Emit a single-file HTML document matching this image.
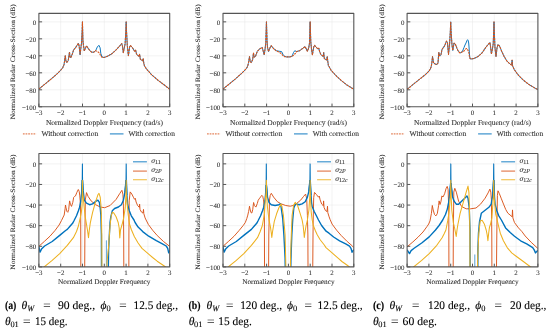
<!DOCTYPE html>
<html><head><meta charset="utf-8"><title>Figure</title>
<style>html,body{margin:0;padding:0;background:#fff;}svg{display:block;text-rendering:geometricPrecision;}svg>text{stroke:#333;stroke-width:0.07px;}</style>
</head><body>
<svg width="550" height="330" viewBox="0 0 550 330" font-family="&quot;Liberation Serif&quot;, &quot;DejaVu Serif&quot;, serif" fill="#2b2b2b">
<rect width="550" height="330" fill="#fff"/>
<defs>
<clipPath id="c00"><rect x="38.90" y="13.36" width="130.80" height="93.44"/></clipPath>
<clipPath id="c01"><rect x="38.90" y="153.55" width="130.80" height="113.35"/></clipPath>
<clipPath id="c10"><rect x="223.00" y="13.36" width="130.80" height="93.44"/></clipPath>
<clipPath id="c11"><rect x="223.00" y="153.55" width="130.80" height="113.35"/></clipPath>
<clipPath id="c20"><rect x="407.10" y="13.36" width="130.80" height="93.44"/></clipPath>
<clipPath id="c21"><rect x="407.10" y="153.55" width="130.80" height="113.35"/></clipPath>
</defs>
<path d="M60.70 13.36V106.80M82.50 13.36V106.80M104.30 13.36V106.80M126.10 13.36V106.80M147.90 13.36V106.80M38.90 89.81H169.70M38.90 72.82H169.70M38.90 55.83H169.70M38.90 38.84H169.70M38.90 21.85H169.70" stroke="#e6e6e6" stroke-width="0.5" fill="none"/>
<path d="M60.70 153.55V266.90M82.50 153.55V266.90M104.30 153.55V266.90M126.10 153.55V266.90M147.90 153.55V266.90M38.90 246.29H169.70M38.90 225.68H169.70M38.90 205.07H169.70M38.90 184.46H169.70M38.90 163.85H169.70" stroke="#e6e6e6" stroke-width="0.5" fill="none"/>
<path d="M244.80 13.36V106.80M266.60 13.36V106.80M288.40 13.36V106.80M310.20 13.36V106.80M332.00 13.36V106.80M223.00 89.81H353.80M223.00 72.82H353.80M223.00 55.83H353.80M223.00 38.84H353.80M223.00 21.85H353.80" stroke="#e6e6e6" stroke-width="0.5" fill="none"/>
<path d="M244.80 153.55V266.90M266.60 153.55V266.90M288.40 153.55V266.90M310.20 153.55V266.90M332.00 153.55V266.90M223.00 246.29H353.80M223.00 225.68H353.80M223.00 205.07H353.80M223.00 184.46H353.80M223.00 163.85H353.80" stroke="#e6e6e6" stroke-width="0.5" fill="none"/>
<path d="M428.90 13.36V106.80M450.70 13.36V106.80M472.50 13.36V106.80M494.30 13.36V106.80M516.10 13.36V106.80M407.10 89.81H537.90M407.10 72.82H537.90M407.10 55.83H537.90M407.10 38.84H537.90M407.10 21.85H537.90" stroke="#e6e6e6" stroke-width="0.5" fill="none"/>
<path d="M428.90 153.55V266.90M450.70 153.55V266.90M472.50 153.55V266.90M494.30 153.55V266.90M516.10 153.55V266.90M407.10 246.29H537.90M407.10 225.68H537.90M407.10 205.07H537.90M407.10 184.46H537.90M407.10 163.85H537.90" stroke="#e6e6e6" stroke-width="0.5" fill="none"/>
<g clip-path="url(#c00)">
<polyline points="38.90,89.00 44.70,84.30 51.30,78.80 56.20,74.70 58.00,73.00 61.00,69.80 62.70,67.80 64.10,64.40 65.30,55.70 65.90,60.70 66.80,62.50 68.20,60.70 69.50,52.10 70.00,57.10 70.90,57.50 72.70,53.00 73.60,49.80 74.50,48.90 75.90,47.10 78.40,43.30 79.20,46.30 80.10,54.90 80.90,47.80 81.60,42.30 82.20,30.00 82.45,21.80 82.70,32.00 82.95,40.70 83.50,45.50 84.30,51.00 85.50,47.80 86.60,45.90 87.80,47.80 89.80,50.60 91.80,52.20 93.70,52.20 95.70,50.60 97.30,47.00 98.90,45.30 100.10,47.80 100.80,53.40 102.00,56.90 104.00,57.50 107.90,56.10 111.90,53.70 115.80,50.20 119.80,45.90 121.70,43.50 122.50,46.30 123.30,52.60 124.30,47.80 125.10,43.90 125.80,32.00 126.20,21.80 126.55,32.00 127.30,45.50 128.40,55.70 129.60,47.00 130.40,45.50 132.30,47.50 134.60,51.20 135.60,50.00 136.50,54.00 138.90,56.50 139.60,54.20 140.30,59.20 142.50,60.80 143.20,58.80 143.80,63.30 144.50,66.00 146.70,69.20 151.70,74.80 158.30,80.50 165.00,85.50 169.70,89.30" fill="none" stroke="#0072BD" stroke-width="0.95" stroke-linejoin="round" stroke-linecap="butt"/>
<polyline points="38.90,89.00 44.70,84.30 51.30,78.80 56.20,74.70 58.00,73.00 61.00,69.80 62.70,67.80 64.10,64.40 65.30,55.70 65.90,60.70 66.80,62.50 68.20,60.70 69.50,52.10 70.00,57.10 70.90,57.50 72.70,53.00 73.60,49.80 74.50,48.90 75.90,47.10 78.40,43.30 79.20,46.30 80.10,54.90 80.90,47.80 81.60,42.30 82.20,30.00 82.45,21.80 82.70,32.00 82.95,40.70 83.50,45.50 84.30,51.00 85.50,47.80 86.60,45.90 87.80,47.80 89.80,50.60 91.80,52.20 93.70,52.20 95.70,50.60 96.90,51.40 98.50,52.20 99.70,53.70 100.80,55.70 102.00,57.30 104.00,57.50 107.90,56.10 111.90,53.70 115.80,50.20 119.80,45.90 121.70,43.50 122.50,46.30 123.30,52.60 124.30,47.80 125.10,43.90 125.80,32.00 126.20,21.80 126.55,32.00 127.30,45.50 128.40,55.70 129.60,47.00 130.40,45.50 132.30,47.50 134.60,51.20 135.60,50.00 136.50,54.00 138.90,56.50 139.60,54.20 140.30,59.20 142.50,60.80 143.20,58.80 143.80,63.30 144.50,66.00 146.70,69.20 151.70,74.80 158.30,80.50 165.00,85.50 169.70,89.30" fill="none" stroke="#D95319" stroke-width="1.1" stroke-linejoin="round" stroke-linecap="butt" stroke-dasharray="2.0 0.85"/>
</g>
<g clip-path="url(#c10)">
<polyline points="223.00,89.00 228.90,84.30 235.50,78.80 241.40,73.60 244.00,71.00 246.30,68.70 247.40,66.80 248.40,63.50 249.50,56.60 250.20,61.60 251.30,62.50 252.60,59.80 253.50,53.00 254.20,57.10 255.40,56.60 257.20,51.60 259.00,49.40 261.30,48.00 262.20,47.50 263.10,50.70 264.20,54.80 265.10,48.90 265.80,42.50 266.20,30.00 266.45,21.80 266.70,30.00 267.00,40.00 267.50,47.10 268.50,51.60 269.90,48.00 271.20,45.70 273.50,48.50 276.20,50.70 278.90,51.20 281.60,51.60 283.00,54.40 284.40,56.20 286.20,56.90 289.80,56.90 292.10,56.20 293.50,52.50 294.80,50.70 296.50,51.60 299.60,50.70 305.10,46.60 307.40,51.20 308.70,48.00 309.60,42.50 309.90,30.00 310.15,21.80 310.40,30.00 310.80,42.00 311.50,48.90 312.40,54.80 313.70,47.10 314.60,45.30 316.90,48.00 318.20,49.20 318.80,48.20 319.60,51.50 320.70,54.20 323.20,56.70 323.70,52.50 324.30,58.50 326.50,60.00 327.30,56.70 327.80,61.50 328.40,65.50 331.20,70.40 336.30,76.00 341.50,80.70 346.60,84.80 353.80,89.20" fill="none" stroke="#0072BD" stroke-width="0.95" stroke-linejoin="round" stroke-linecap="butt"/>
<polyline points="223.00,89.00 228.90,84.30 235.50,78.80 241.40,73.60 244.00,71.00 246.30,68.70 247.40,66.80 248.40,63.50 249.50,56.60 250.20,61.60 251.30,62.50 252.60,59.80 253.50,53.00 254.20,57.10 255.40,56.60 257.20,51.60 259.00,49.40 261.30,48.00 262.20,47.50 263.10,50.70 264.20,54.80 265.10,48.90 265.80,42.50 266.20,30.00 266.45,21.80 266.70,30.00 267.00,40.00 267.50,47.10 268.50,51.60 269.90,48.00 271.20,45.70 273.50,48.50 276.20,50.70 278.90,52.10 281.20,53.50 283.00,55.70 284.40,56.60 286.20,56.90 289.80,56.90 292.10,56.20 293.50,55.30 295.30,53.50 296.50,51.60 299.60,50.70 305.10,46.60 307.40,51.20 308.70,48.00 309.60,42.50 309.90,30.00 310.15,21.80 310.40,30.00 310.80,42.00 311.50,48.90 312.40,54.80 313.70,47.10 314.60,45.30 316.90,48.00 318.20,49.20 318.80,48.20 319.60,51.50 320.70,54.20 323.20,56.70 323.70,52.50 324.30,58.50 326.50,60.00 327.30,56.70 327.80,61.50 328.40,65.50 331.20,70.40 336.30,76.00 341.50,80.70 346.60,84.80 353.80,89.20" fill="none" stroke="#D95319" stroke-width="1.1" stroke-linejoin="round" stroke-linecap="butt" stroke-dasharray="2.0 0.85"/>
</g>
<g clip-path="url(#c20)">
<polyline points="407.10,89.20 410.00,87.00 415.70,82.30 420.50,78.50 425.40,74.60 429.30,70.70 430.30,69.00 431.20,66.80 431.90,62.50 432.50,56.50 433.50,62.50 435.00,64.00 437.00,64.50 438.00,63.00 438.80,52.50 439.80,56.00 441.00,54.50 442.00,49.50 443.00,48.00 444.50,46.00 446.50,41.00 447.50,43.00 448.50,54.50 449.50,45.00 450.30,32.00 450.70,21.80 451.10,32.00 452.00,45.00 452.80,50.50 454.00,43.00 455.50,44.50 457.00,48.50 458.50,51.50 460.00,53.00 462.00,52.00 463.00,50.00 464.00,47.50 465.00,45.00 466.00,43.00 467.00,40.50 467.60,39.70 468.20,40.50 468.70,43.00 469.10,48.00 469.50,55.00 470.00,58.50 471.00,59.00 474.00,58.50 478.00,56.50 482.00,53.00 486.00,47.00 489.90,42.50 490.60,47.00 491.40,54.00 492.40,49.00 493.20,44.00 493.70,32.00 494.00,21.80 494.30,32.00 495.00,48.00 496.00,56.50 497.00,48.00 498.00,44.50 499.50,46.00 502.00,52.00 504.10,56.40 506.80,60.90 510.00,64.10 511.70,65.00 512.10,60.00 512.50,65.50 514.10,69.30 518.20,75.00 523.40,80.20 528.60,84.30 533.70,87.40 537.90,89.60" fill="none" stroke="#0072BD" stroke-width="0.95" stroke-linejoin="round" stroke-linecap="butt"/>
<polyline points="407.10,89.20 410.00,87.00 415.70,82.30 420.50,78.50 425.40,74.60 429.30,70.70 430.30,69.00 431.20,66.80 431.90,62.50 432.50,56.50 433.50,62.50 435.00,64.00 437.00,64.50 438.00,63.00 438.80,52.50 439.80,56.00 441.00,54.50 442.00,49.50 443.00,48.00 444.50,46.00 446.50,41.00 447.50,43.00 448.50,54.50 449.50,45.00 450.30,32.00 450.70,21.80 451.10,32.00 452.00,45.00 452.80,50.50 454.00,43.00 455.50,44.50 457.00,48.50 458.50,51.50 460.00,53.00 462.00,52.00 463.00,52.00 464.00,51.00 465.00,49.50 466.50,48.50 467.50,49.50 468.30,51.00 469.00,53.00 469.50,57.00 470.00,58.50 471.00,59.00 474.00,58.50 478.00,56.50 482.00,53.00 486.00,47.00 489.90,42.50 490.60,47.00 491.40,54.00 492.40,49.00 493.20,44.00 493.70,32.00 494.00,21.80 494.30,32.00 495.00,48.00 496.00,56.50 497.00,48.00 498.00,44.50 499.50,46.00 502.00,52.00 504.10,56.40 506.80,60.90 510.00,64.10 511.70,65.00 512.10,60.00 512.50,65.50 514.10,69.30 518.20,75.00 523.40,80.20 528.60,84.30 533.70,87.40 537.90,89.60" fill="none" stroke="#D95319" stroke-width="1.1" stroke-linejoin="round" stroke-linecap="butt" stroke-dasharray="2.0 0.85"/>
</g>
<g clip-path="url(#c01)">
<polyline points="38.90,246.30 44.60,241.20 50.00,236.20 55.00,230.50 59.10,225.00 61.50,220.50 63.20,217.00 64.20,215.00 65.10,208.60 65.50,205.00 66.00,207.70 66.90,211.40 67.80,212.30 68.70,209.50 69.60,200.90 70.50,204.50 71.50,206.40 72.80,202.30 73.70,197.30 74.60,196.40 75.50,195.90 76.90,192.30 78.30,189.50 79.20,191.40 79.80,195.90 80.40,203.20 80.70,215.00 80.90,300.00" fill="none" stroke="#D95319" stroke-width="0.95" stroke-linejoin="round" stroke-linecap="butt"/>
<polyline points="84.50,300.00 84.90,235.00 85.30,200.00 86.50,192.60 88.10,196.40 91.10,200.90 95.60,204.70 100.20,207.00 104.70,207.70 110.10,205.50 116.10,199.40 119.90,193.30 121.90,190.30 122.90,194.10 123.40,203.20 123.70,235.00 123.90,300.00" fill="none" stroke="#D95319" stroke-width="0.95" stroke-linejoin="round" stroke-linecap="butt"/>
<polyline points="128.80,300.00 128.90,235.00 129.20,200.90 130.20,191.90 131.80,194.00 133.40,197.20 134.50,199.30 135.30,198.30 136.10,202.00 137.70,205.70 139.30,207.30 139.60,204.10 140.00,209.40 141.40,212.00 143.00,213.10 143.50,209.40 143.80,213.60 145.10,217.90 146.10,220.00 148.40,224.50 152.60,230.20 157.20,235.50 163.50,241.50 169.80,246.50" fill="none" stroke="#D95319" stroke-width="0.95" stroke-linejoin="round" stroke-linecap="butt"/>
<polyline points="38.90,246.80 40.00,252.10 41.50,249.10 44.60,246.00 52.20,241.50 59.70,235.40 65.60,230.50 67.30,229.40 70.20,226.00 72.60,223.30 74.10,220.50 76.50,215.70 78.40,210.80 79.60,207.20 80.80,201.00 81.60,193.00 82.25,180.00" fill="none" stroke="#0072BD" stroke-width="1.4" stroke-linejoin="round" stroke-linecap="butt"/>
<polyline points="82.55,180.00 83.10,190.00 84.30,200.20 86.50,203.20 89.60,204.70 92.60,203.90 96.40,200.90 97.90,200.20 99.40,202.40 100.20,207.70 100.90,215.30 101.40,235.00 101.60,300.00" fill="none" stroke="#0072BD" stroke-width="1.4" stroke-linejoin="round" stroke-linecap="butt"/>
<polyline points="81.60,193.00 82.25,180.00 82.40,163.90 82.55,180.00 83.10,190.00" fill="none" stroke="#0072BD" stroke-width="1.05" stroke-linejoin="round" stroke-linecap="butt"/>
<polyline points="106.10,300.00 106.40,240.40 106.70,300.00" fill="none" stroke="#0072BD" stroke-width="0.7" stroke-linejoin="round" stroke-linecap="butt" stroke-opacity="0.55"/>
<polyline points="107.80,300.00 108.60,250.00 109.60,230.00 110.10,222.00 110.80,216.80 112.30,210.80 114.60,208.50 118.40,207.00 121.40,204.70 123.40,200.20 124.90,192.60 126.05,180.00" fill="none" stroke="#0072BD" stroke-width="1.4" stroke-linejoin="round" stroke-linecap="butt"/>
<polyline points="126.35,180.00 126.90,195.00 127.60,204.50 129.20,210.50 131.30,215.80 134.00,220.00 135.10,222.50 138.10,227.10 142.70,231.60 148.70,236.20 156.30,240.70 162.40,243.80 166.20,246.00 167.70,248.30 168.70,252.80 169.80,250.50" fill="none" stroke="#0072BD" stroke-width="1.4" stroke-linejoin="round" stroke-linecap="butt"/>
<polyline points="124.90,192.60 126.05,180.00 126.20,163.90 126.35,180.00 126.90,195.00" fill="none" stroke="#0072BD" stroke-width="1.05" stroke-linejoin="round" stroke-linecap="butt"/>
<polyline points="43.80,267.20 52.20,260.40 59.70,253.60 67.30,245.30 73.40,237.70 76.50,231.50 78.40,226.00 80.20,218.10 81.40,212.10 82.00,206.00 82.20,195.00 82.40,180.30 82.65,192.00 83.50,200.20 85.00,215.30 86.50,224.40 87.60,231.00 88.50,237.70 89.20,231.00 90.30,222.90 92.60,212.30 95.60,201.70 97.90,194.80 99.00,193.30 100.20,197.10 100.90,204.70 101.40,215.30 101.80,235.00 102.00,300.00" fill="none" stroke="#EDB120" stroke-width="1.05" stroke-linejoin="round" stroke-linecap="butt"/>
<polyline points="106.50,300.00 107.00,262.00 108.40,249.00 109.60,232.00 110.10,225.00 111.30,215.30 112.30,212.30 113.80,213.00 116.10,216.80 118.20,222.50 119.20,228.00 119.80,238.00 120.50,230.00 122.20,224.00 123.70,218.00 125.20,207.70 125.95,195.00 126.20,180.30 126.45,195.00 127.30,205.00 128.20,215.00 129.50,224.00 131.30,229.50 134.30,236.50 138.10,243.00 142.00,248.40 148.10,253.70 152.60,257.50 157.20,261.20 163.90,265.80 167.00,268.00" fill="none" stroke="#EDB120" stroke-width="1.05" stroke-linejoin="round" stroke-linecap="butt"/>
</g>
<g clip-path="url(#c11)">
<polyline points="223.00,246.30 228.70,241.20 234.10,236.20 239.10,230.50 243.20,225.50 245.30,222.50 246.80,218.50 247.80,215.10 248.60,211.50 249.10,209.00 249.50,206.20 250.00,208.90 250.90,212.50 251.80,213.00 252.70,209.80 253.60,202.50 254.50,205.70 255.90,207.10 257.30,203.50 258.20,200.30 259.10,198.90 260.50,197.10 261.80,195.30 262.70,196.20 263.50,199.80 264.10,206.20 264.40,218.00 264.60,300.00" fill="none" stroke="#D95319" stroke-width="0.95" stroke-linejoin="round" stroke-linecap="butt"/>
<polyline points="268.40,300.00 268.80,235.00 269.50,200.00 270.20,195.50 271.30,193.30 273.60,197.10 277.40,201.70 281.20,203.90 285.70,205.50 290.20,206.20 293.30,205.50 296.10,203.90 300.60,200.20 303.60,196.40 305.60,194.10 306.70,198.60 307.40,215.30 307.90,235.00 308.10,300.00" fill="none" stroke="#D95319" stroke-width="0.95" stroke-linejoin="round" stroke-linecap="butt"/>
<polyline points="312.50,300.00 313.00,235.00 313.20,220.00 313.70,197.70 314.50,192.40 316.40,194.50 318.50,197.20 319.30,196.10 320.10,199.80 321.70,204.10 323.30,205.70 323.60,200.90 324.00,207.30 325.40,210.50 327.00,211.50 327.50,206.20 327.80,212.60 329.10,216.80 330.10,219.50 332.10,224.10 336.60,230.20 341.20,235.50 347.20,241.50 352.50,246.10 353.90,247.60" fill="none" stroke="#D95319" stroke-width="0.95" stroke-linejoin="round" stroke-linecap="butt"/>
<polyline points="223.00,246.80 224.10,252.10 225.60,249.10 228.70,246.00 236.30,241.50 243.80,235.40 251.40,229.40 254.30,226.00 256.70,223.30 258.20,220.50 260.60,215.70 262.50,210.80 263.70,207.20 264.90,201.00 265.60,194.00 266.15,185.00" fill="none" stroke="#0072BD" stroke-width="1.4" stroke-linejoin="round" stroke-linecap="butt"/>
<polyline points="266.45,185.00 267.50,197.10 269.00,202.40 271.30,204.70 275.10,205.50 278.90,204.70 280.40,203.90 281.20,207.70 282.70,218.30 283.90,235.00 285.10,258.00 285.80,300.00" fill="none" stroke="#0072BD" stroke-width="1.4" stroke-linejoin="round" stroke-linecap="butt"/>
<polyline points="265.60,194.00 266.15,185.00 266.30,163.90 266.45,185.00 267.50,197.10" fill="none" stroke="#0072BD" stroke-width="1.05" stroke-linejoin="round" stroke-linecap="butt"/>
<polyline points="290.40,300.00 290.90,260.00 291.80,235.00 292.70,220.00 293.80,208.00 294.80,205.50 296.10,203.90 299.10,204.70 302.10,203.90 305.20,201.70 307.40,197.10 308.90,191.10 309.95,180.00" fill="none" stroke="#0072BD" stroke-width="1.4" stroke-linejoin="round" stroke-linecap="butt"/>
<polyline points="310.25,180.00 311.00,195.00 311.60,203.00 312.10,206.20 314.20,211.50 316.40,215.80 318.50,220.00 321.60,225.50 326.10,231.20 329.00,233.20 333.60,237.00 339.60,240.80 345.70,243.80 349.50,246.10 351.00,248.40 352.10,252.20 353.90,249.70" fill="none" stroke="#0072BD" stroke-width="1.4" stroke-linejoin="round" stroke-linecap="butt"/>
<polyline points="308.90,191.10 309.95,180.00 310.10,163.90 310.25,180.00 311.00,195.00" fill="none" stroke="#0072BD" stroke-width="1.05" stroke-linejoin="round" stroke-linecap="butt"/>
<polyline points="227.90,267.20 236.30,260.40 243.80,253.60 251.40,245.30 257.50,237.70 260.00,232.00 262.20,226.00 263.50,219.00 264.50,213.30 265.30,200.00 266.15,192.10 266.40,180.30 266.65,195.00 267.50,207.70 269.00,219.80 270.50,227.40 271.30,233.00 271.80,237.50 272.50,232.00 274.30,221.40 276.60,213.80 278.90,207.70 280.80,203.90 281.90,206.20 283.40,215.30 284.20,224.40 285.10,235.00 285.90,268.00 286.10,300.00" fill="none" stroke="#EDB120" stroke-width="1.05" stroke-linejoin="round" stroke-linecap="butt"/>
<polyline points="290.20,300.00 290.50,260.00 291.30,235.00 292.10,215.30 293.80,204.70 295.30,202.40 297.60,205.50 299.80,212.30 302.10,219.80 303.20,226.00 303.90,233.00 304.30,237.50 304.90,233.00 306.00,226.00 307.40,220.00 308.90,210.00 309.90,195.00 310.15,180.30 310.40,195.00 311.20,212.00 312.20,220.00 313.30,225.50 315.50,231.00 317.10,234.50 320.00,239.50 324.30,245.00 326.00,247.60 332.10,252.90 338.10,258.20 341.90,261.50 347.60,265.50 350.50,268.00" fill="none" stroke="#EDB120" stroke-width="1.05" stroke-linejoin="round" stroke-linecap="butt"/>
</g>
<g clip-path="url(#c21)">
<polyline points="407.10,246.80 412.80,242.00 418.00,237.20 423.00,232.00 427.00,226.50 428.70,224.00 430.00,220.90 431.40,213.50 432.30,205.50 433.20,210.00 434.50,214.50 435.90,215.90 437.30,213.60 438.60,205.50 439.10,200.90 440.00,204.50 440.90,201.80 441.90,195.90 443.00,197.00 444.60,193.80 446.10,188.50 447.20,186.40 448.10,189.50 448.50,201.20 448.80,215.00 449.00,300.00" fill="none" stroke="#D95319" stroke-width="0.95" stroke-linejoin="round" stroke-linecap="butt"/>
<polyline points="453.10,300.00 453.30,235.00 453.80,192.10 454.80,188.30 456.30,192.10 458.60,201.20 461.60,206.50 466.20,208.80 470.70,208.80 476.00,208.00 480.50,204.20 485.10,198.20 488.10,192.90 489.90,189.10 490.80,192.10 491.40,199.70 491.80,235.00 492.00,300.00" fill="none" stroke="#D95319" stroke-width="0.95" stroke-linejoin="round" stroke-linecap="butt"/>
<polyline points="496.20,300.00 496.80,235.00 497.00,220.00 497.40,195.60 498.00,190.80 499.30,193.50 501.40,198.80 503.50,204.10 505.70,209.40 507.80,213.10 511.00,215.80 512.20,216.80 512.50,209.90 512.90,217.90 513.60,220.00 514.50,222.60 518.50,227.90 522.00,231.70 525.20,236.00 531.20,242.30 537.90,248.50" fill="none" stroke="#D95319" stroke-width="0.95" stroke-linejoin="round" stroke-linecap="butt"/>
<polyline points="407.10,249.80 409.50,253.60 411.10,250.60 414.10,248.30 421.70,243.00 429.20,236.90 435.50,230.00 439.10,225.50 442.70,220.00 445.50,214.50 447.30,209.10 448.60,202.70 449.60,195.00 450.65,183.00" fill="none" stroke="#0072BD" stroke-width="1.4" stroke-linejoin="round" stroke-linecap="butt"/>
<polyline points="450.95,183.00 452.50,196.70 454.10,201.20 456.30,204.20 458.60,204.20 461.60,201.20 464.70,198.20 466.90,195.90 468.00,198.20 469.20,207.30 470.00,230.00 470.30,300.00" fill="none" stroke="#0072BD" stroke-width="1.4" stroke-linejoin="round" stroke-linecap="butt"/>
<polyline points="449.60,195.00 450.65,183.00 450.80,163.90 450.95,183.00 452.50,196.70" fill="none" stroke="#0072BD" stroke-width="1.05" stroke-linejoin="round" stroke-linecap="butt"/>
<polyline points="474.50,300.00 474.80,254.50 475.10,300.00" fill="none" stroke="#0072BD" stroke-width="0.7" stroke-linejoin="round" stroke-linecap="butt" stroke-opacity="0.55"/>
<polyline points="477.60,300.00 477.90,250.00 478.50,233.00 479.50,222.00 481.30,213.30 485.10,210.30 488.90,207.30 491.20,204.20 492.70,195.20 493.55,180.00" fill="none" stroke="#0072BD" stroke-width="1.4" stroke-linejoin="round" stroke-linecap="butt"/>
<polyline points="493.85,180.00 494.50,197.00 495.10,204.10 496.70,210.50 498.80,215.80 501.40,220.00 505.60,227.90 510.20,232.40 514.50,236.20 520.60,240.80 526.70,243.80 532.70,247.60 534.20,249.90 535.50,252.90 537.90,250.30" fill="none" stroke="#0072BD" stroke-width="1.4" stroke-linejoin="round" stroke-linecap="butt"/>
<polyline points="492.70,195.20 493.55,180.00 493.70,163.90 493.85,180.00 494.50,197.00" fill="none" stroke="#0072BD" stroke-width="1.05" stroke-linejoin="round" stroke-linecap="butt"/>
<polyline points="413.30,267.20 421.70,260.40 429.20,253.60 436.80,245.30 442.10,237.70 444.30,233.50 445.90,230.00 447.70,220.90 449.10,211.80 449.80,203.00 450.50,192.00 450.80,180.30 451.05,195.00 451.80,210.30 453.30,222.40 454.80,229.00 456.20,236.50 457.00,230.00 457.80,225.00 460.10,213.30 463.20,202.70 466.20,192.10 468.00,186.10 468.90,192.10 469.50,210.30 469.90,235.00 470.10,300.00" fill="none" stroke="#EDB120" stroke-width="1.05" stroke-linejoin="round" stroke-linecap="butt"/>
<polyline points="477.30,300.00 477.60,260.00 478.80,233.10 480.20,221.00 482.10,220.30 484.30,223.90 486.20,230.00 487.20,235.00 487.90,240.70 488.70,233.00 489.50,227.10 490.40,224.50 491.90,217.90 493.45,195.20 493.70,180.30 493.95,195.00 495.70,214.00 496.50,217.00 498.10,224.10 500.30,233.20 503.40,240.80 507.20,247.60 511.70,252.90 516.50,256.50 523.00,261.20 530.00,266.50 532.50,268.00" fill="none" stroke="#EDB120" stroke-width="1.05" stroke-linejoin="round" stroke-linecap="butt"/>
</g>
<path d="M38.90 106.80V103.60M60.70 106.80V103.60M82.50 106.80V103.60M104.30 106.80V103.60M126.10 106.80V103.60M147.90 106.80V103.60M169.70 106.80V103.60M38.90 106.80H42.10M38.90 89.81H42.10M38.90 72.82H42.10M38.90 55.83H42.10M38.90 38.84H42.10M38.90 21.85H42.10" stroke="#444" stroke-width="0.9" fill="none"/>
<rect x="38.90" y="13.36" width="130.80" height="93.44" fill="none" stroke="#555" stroke-width="1.1" stroke-linejoin="round"/>
<text x="38.90" y="114.70" text-anchor="middle" font-size="6.9">−3</text>
<text x="60.70" y="114.70" text-anchor="middle" font-size="6.9">−2</text>
<text x="82.50" y="114.70" text-anchor="middle" font-size="6.9">−1</text>
<text x="104.30" y="114.70" text-anchor="middle" font-size="6.9">0</text>
<text x="126.10" y="114.70" text-anchor="middle" font-size="6.9">1</text>
<text x="147.90" y="114.70" text-anchor="middle" font-size="6.9">2</text>
<text x="169.70" y="114.70" text-anchor="middle" font-size="6.9">3</text>
<text x="36.20" y="109.50" text-anchor="end" font-size="6.9">−100</text>
<text x="36.20" y="92.51" text-anchor="end" font-size="6.9">−80</text>
<text x="36.20" y="75.52" text-anchor="end" font-size="6.9">−60</text>
<text x="36.20" y="58.53" text-anchor="end" font-size="6.9">−40</text>
<text x="36.20" y="41.54" text-anchor="end" font-size="6.9">−20</text>
<text x="36.20" y="24.55" text-anchor="end" font-size="6.9">0</text>
<text transform="translate(15.40,61.93) rotate(-90)" text-anchor="middle" font-size="6.7" textLength="115.2" lengthAdjust="spacingAndGlyphs">Normalized Radar Cross-Section (dB)</text>
<text x="104.40" y="125.20" text-anchor="middle" font-size="7.4" textLength="117" lengthAdjust="spacingAndGlyphs">Normalized Doppler Frequency (rad/s)</text>
<path d="M38.90 266.90V263.70M60.70 266.90V263.70M82.50 266.90V263.70M104.30 266.90V263.70M126.10 266.90V263.70M147.90 266.90V263.70M169.70 266.90V263.70M38.90 266.90H42.10M38.90 246.29H42.10M38.90 225.68H42.10M38.90 205.07H42.10M38.90 184.46H42.10M38.90 163.85H42.10" stroke="#444" stroke-width="0.9" fill="none"/>
<rect x="38.90" y="153.55" width="130.80" height="113.35" fill="none" stroke="#555" stroke-width="1.1" stroke-linejoin="round"/>
<text x="38.90" y="274.80" text-anchor="middle" font-size="6.9">−3</text>
<text x="60.70" y="274.80" text-anchor="middle" font-size="6.9">−2</text>
<text x="82.50" y="274.80" text-anchor="middle" font-size="6.9">−1</text>
<text x="104.30" y="274.80" text-anchor="middle" font-size="6.9">0</text>
<text x="126.10" y="274.80" text-anchor="middle" font-size="6.9">1</text>
<text x="147.90" y="274.80" text-anchor="middle" font-size="6.9">2</text>
<text x="169.70" y="274.80" text-anchor="middle" font-size="6.9">3</text>
<text x="36.20" y="269.60" text-anchor="end" font-size="6.9">−100</text>
<text x="36.20" y="248.99" text-anchor="end" font-size="6.9">−80</text>
<text x="36.20" y="228.38" text-anchor="end" font-size="6.9">−60</text>
<text x="36.20" y="207.77" text-anchor="end" font-size="6.9">−40</text>
<text x="36.20" y="187.16" text-anchor="end" font-size="6.9">−20</text>
<text x="36.20" y="166.55" text-anchor="end" font-size="6.9">0</text>
<text transform="translate(15.40,212.07) rotate(-90)" text-anchor="middle" font-size="6.7" textLength="115.2" lengthAdjust="spacingAndGlyphs">Normalized Radar Cross-Section (dB)</text>
<text x="104.30" y="283.50" text-anchor="middle" font-size="7.2" textLength="92.4" lengthAdjust="spacingAndGlyphs">Normalized Doppler Frequency</text>
<line x1="22.90" y1="133.9" x2="36.20" y2="133.9" stroke="#D95319" stroke-width="1.15" stroke-dasharray="1.75 0.9" stroke-opacity="0.7"/>
<text x="41.40" y="136.30" font-size="7.4" textLength="56.8" lengthAdjust="spacingAndGlyphs">Without correction</text>
<line x1="109.90" y1="133.9" x2="123.50" y2="133.9" stroke="#0072BD" stroke-width="1.1" stroke-opacity="0.85"/>
<text x="128.60" y="136.30" font-size="7.4" textLength="46.4" lengthAdjust="spacingAndGlyphs">With correction</text>
<line x1="133.00" y1="161.8" x2="146.90" y2="161.8" stroke="#0072BD" stroke-width="1.2" stroke-opacity="0.75"/>
<text x="151.20" y="162.90" font-size="7.6"><tspan font-style="italic">σ</tspan><tspan font-size="6.0" dy="1.2">11</tspan></text>
<line x1="133.00" y1="171.1" x2="146.90" y2="171.1" stroke="#D95319" stroke-width="1.2" stroke-opacity="0.75"/>
<text x="151.20" y="172.20" font-size="7.6"><tspan font-style="italic">σ</tspan><tspan font-size="6.0" dy="1.2">2<tspan font-style="italic">P</tspan></tspan></text>
<line x1="133.00" y1="179.7" x2="146.90" y2="179.7" stroke="#EDB120" stroke-width="1.2" stroke-opacity="0.75"/>
<text x="151.20" y="180.80" font-size="7.6"><tspan font-style="italic">σ</tspan><tspan font-size="6.0" dy="1.2">12<tspan font-style="italic">c</tspan></tspan></text>
<path d="M223.00 106.80V103.60M244.80 106.80V103.60M266.60 106.80V103.60M288.40 106.80V103.60M310.20 106.80V103.60M332.00 106.80V103.60M353.80 106.80V103.60M223.00 106.80H226.20M223.00 89.81H226.20M223.00 72.82H226.20M223.00 55.83H226.20M223.00 38.84H226.20M223.00 21.85H226.20" stroke="#444" stroke-width="0.9" fill="none"/>
<rect x="223.00" y="13.36" width="130.80" height="93.44" fill="none" stroke="#555" stroke-width="1.1" stroke-linejoin="round"/>
<text x="223.00" y="114.70" text-anchor="middle" font-size="6.9">−3</text>
<text x="244.80" y="114.70" text-anchor="middle" font-size="6.9">−2</text>
<text x="266.60" y="114.70" text-anchor="middle" font-size="6.9">−1</text>
<text x="288.40" y="114.70" text-anchor="middle" font-size="6.9">0</text>
<text x="310.20" y="114.70" text-anchor="middle" font-size="6.9">1</text>
<text x="332.00" y="114.70" text-anchor="middle" font-size="6.9">2</text>
<text x="353.80" y="114.70" text-anchor="middle" font-size="6.9">3</text>
<text x="220.30" y="109.50" text-anchor="end" font-size="6.9">−100</text>
<text x="220.30" y="92.51" text-anchor="end" font-size="6.9">−80</text>
<text x="220.30" y="75.52" text-anchor="end" font-size="6.9">−60</text>
<text x="220.30" y="58.53" text-anchor="end" font-size="6.9">−40</text>
<text x="220.30" y="41.54" text-anchor="end" font-size="6.9">−20</text>
<text x="220.30" y="24.55" text-anchor="end" font-size="6.9">0</text>
<text transform="translate(199.50,61.93) rotate(-90)" text-anchor="middle" font-size="6.7" textLength="115.2" lengthAdjust="spacingAndGlyphs">Normalized Radar Cross-Section (dB)</text>
<text x="288.50" y="125.20" text-anchor="middle" font-size="7.4" textLength="117" lengthAdjust="spacingAndGlyphs">Normalized Doppler Frequency (rad/s)</text>
<path d="M223.00 266.90V263.70M244.80 266.90V263.70M266.60 266.90V263.70M288.40 266.90V263.70M310.20 266.90V263.70M332.00 266.90V263.70M353.80 266.90V263.70M223.00 266.90H226.20M223.00 246.29H226.20M223.00 225.68H226.20M223.00 205.07H226.20M223.00 184.46H226.20M223.00 163.85H226.20" stroke="#444" stroke-width="0.9" fill="none"/>
<rect x="223.00" y="153.55" width="130.80" height="113.35" fill="none" stroke="#555" stroke-width="1.1" stroke-linejoin="round"/>
<text x="223.00" y="274.80" text-anchor="middle" font-size="6.9">−3</text>
<text x="244.80" y="274.80" text-anchor="middle" font-size="6.9">−2</text>
<text x="266.60" y="274.80" text-anchor="middle" font-size="6.9">−1</text>
<text x="288.40" y="274.80" text-anchor="middle" font-size="6.9">0</text>
<text x="310.20" y="274.80" text-anchor="middle" font-size="6.9">1</text>
<text x="332.00" y="274.80" text-anchor="middle" font-size="6.9">2</text>
<text x="353.80" y="274.80" text-anchor="middle" font-size="6.9">3</text>
<text x="220.30" y="269.60" text-anchor="end" font-size="6.9">−100</text>
<text x="220.30" y="248.99" text-anchor="end" font-size="6.9">−80</text>
<text x="220.30" y="228.38" text-anchor="end" font-size="6.9">−60</text>
<text x="220.30" y="207.77" text-anchor="end" font-size="6.9">−40</text>
<text x="220.30" y="187.16" text-anchor="end" font-size="6.9">−20</text>
<text x="220.30" y="166.55" text-anchor="end" font-size="6.9">0</text>
<text transform="translate(199.50,212.07) rotate(-90)" text-anchor="middle" font-size="6.7" textLength="115.2" lengthAdjust="spacingAndGlyphs">Normalized Radar Cross-Section (dB)</text>
<text x="288.40" y="283.50" text-anchor="middle" font-size="7.2" textLength="92.4" lengthAdjust="spacingAndGlyphs">Normalized Doppler Frequency</text>
<line x1="207.00" y1="133.9" x2="220.30" y2="133.9" stroke="#D95319" stroke-width="1.15" stroke-dasharray="1.75 0.9" stroke-opacity="0.7"/>
<text x="225.50" y="136.30" font-size="7.4" textLength="56.8" lengthAdjust="spacingAndGlyphs">Without correction</text>
<line x1="294.00" y1="133.9" x2="307.60" y2="133.9" stroke="#0072BD" stroke-width="1.1" stroke-opacity="0.85"/>
<text x="312.70" y="136.30" font-size="7.4" textLength="46.4" lengthAdjust="spacingAndGlyphs">With correction</text>
<line x1="317.10" y1="161.8" x2="331.00" y2="161.8" stroke="#0072BD" stroke-width="1.2" stroke-opacity="0.75"/>
<text x="335.30" y="162.90" font-size="7.6"><tspan font-style="italic">σ</tspan><tspan font-size="6.0" dy="1.2">11</tspan></text>
<line x1="317.10" y1="171.1" x2="331.00" y2="171.1" stroke="#D95319" stroke-width="1.2" stroke-opacity="0.75"/>
<text x="335.30" y="172.20" font-size="7.6"><tspan font-style="italic">σ</tspan><tspan font-size="6.0" dy="1.2">2<tspan font-style="italic">P</tspan></tspan></text>
<line x1="317.10" y1="179.7" x2="331.00" y2="179.7" stroke="#EDB120" stroke-width="1.2" stroke-opacity="0.75"/>
<text x="335.30" y="180.80" font-size="7.6"><tspan font-style="italic">σ</tspan><tspan font-size="6.0" dy="1.2">12<tspan font-style="italic">c</tspan></tspan></text>
<path d="M407.10 106.80V103.60M428.90 106.80V103.60M450.70 106.80V103.60M472.50 106.80V103.60M494.30 106.80V103.60M516.10 106.80V103.60M537.90 106.80V103.60M407.10 106.80H410.30M407.10 89.81H410.30M407.10 72.82H410.30M407.10 55.83H410.30M407.10 38.84H410.30M407.10 21.85H410.30" stroke="#444" stroke-width="0.9" fill="none"/>
<rect x="407.10" y="13.36" width="130.80" height="93.44" fill="none" stroke="#555" stroke-width="1.1" stroke-linejoin="round"/>
<text x="407.10" y="114.70" text-anchor="middle" font-size="6.9">−3</text>
<text x="428.90" y="114.70" text-anchor="middle" font-size="6.9">−2</text>
<text x="450.70" y="114.70" text-anchor="middle" font-size="6.9">−1</text>
<text x="472.50" y="114.70" text-anchor="middle" font-size="6.9">0</text>
<text x="494.30" y="114.70" text-anchor="middle" font-size="6.9">1</text>
<text x="516.10" y="114.70" text-anchor="middle" font-size="6.9">2</text>
<text x="537.90" y="114.70" text-anchor="middle" font-size="6.9">3</text>
<text x="404.40" y="109.50" text-anchor="end" font-size="6.9">−100</text>
<text x="404.40" y="92.51" text-anchor="end" font-size="6.9">−80</text>
<text x="404.40" y="75.52" text-anchor="end" font-size="6.9">−60</text>
<text x="404.40" y="58.53" text-anchor="end" font-size="6.9">−40</text>
<text x="404.40" y="41.54" text-anchor="end" font-size="6.9">−20</text>
<text x="404.40" y="24.55" text-anchor="end" font-size="6.9">0</text>
<text transform="translate(383.60,61.93) rotate(-90)" text-anchor="middle" font-size="6.7" textLength="115.2" lengthAdjust="spacingAndGlyphs">Normalized Radar Cross-Section (dB)</text>
<text x="472.60" y="125.20" text-anchor="middle" font-size="7.4" textLength="117" lengthAdjust="spacingAndGlyphs">Normalized Doppler Frequency (rad/s)</text>
<path d="M407.10 266.90V263.70M428.90 266.90V263.70M450.70 266.90V263.70M472.50 266.90V263.70M494.30 266.90V263.70M516.10 266.90V263.70M537.90 266.90V263.70M407.10 266.90H410.30M407.10 246.29H410.30M407.10 225.68H410.30M407.10 205.07H410.30M407.10 184.46H410.30M407.10 163.85H410.30" stroke="#444" stroke-width="0.9" fill="none"/>
<rect x="407.10" y="153.55" width="130.80" height="113.35" fill="none" stroke="#555" stroke-width="1.1" stroke-linejoin="round"/>
<text x="407.10" y="274.80" text-anchor="middle" font-size="6.9">−3</text>
<text x="428.90" y="274.80" text-anchor="middle" font-size="6.9">−2</text>
<text x="450.70" y="274.80" text-anchor="middle" font-size="6.9">−1</text>
<text x="472.50" y="274.80" text-anchor="middle" font-size="6.9">0</text>
<text x="494.30" y="274.80" text-anchor="middle" font-size="6.9">1</text>
<text x="516.10" y="274.80" text-anchor="middle" font-size="6.9">2</text>
<text x="537.90" y="274.80" text-anchor="middle" font-size="6.9">3</text>
<text x="404.40" y="269.60" text-anchor="end" font-size="6.9">−100</text>
<text x="404.40" y="248.99" text-anchor="end" font-size="6.9">−80</text>
<text x="404.40" y="228.38" text-anchor="end" font-size="6.9">−60</text>
<text x="404.40" y="207.77" text-anchor="end" font-size="6.9">−40</text>
<text x="404.40" y="187.16" text-anchor="end" font-size="6.9">−20</text>
<text x="404.40" y="166.55" text-anchor="end" font-size="6.9">0</text>
<text transform="translate(383.60,212.07) rotate(-90)" text-anchor="middle" font-size="6.7" textLength="115.2" lengthAdjust="spacingAndGlyphs">Normalized Radar Cross-Section (dB)</text>
<text x="472.50" y="283.50" text-anchor="middle" font-size="7.2" textLength="92.4" lengthAdjust="spacingAndGlyphs">Normalized Doppler Frequency</text>
<line x1="391.10" y1="133.9" x2="404.40" y2="133.9" stroke="#D95319" stroke-width="1.15" stroke-dasharray="1.75 0.9" stroke-opacity="0.7"/>
<text x="409.60" y="136.30" font-size="7.4" textLength="56.8" lengthAdjust="spacingAndGlyphs">Without correction</text>
<line x1="478.10" y1="133.9" x2="491.70" y2="133.9" stroke="#0072BD" stroke-width="1.1" stroke-opacity="0.85"/>
<text x="496.80" y="136.30" font-size="7.4" textLength="46.4" lengthAdjust="spacingAndGlyphs">With correction</text>
<line x1="501.20" y1="161.8" x2="515.10" y2="161.8" stroke="#0072BD" stroke-width="1.2" stroke-opacity="0.75"/>
<text x="519.40" y="162.90" font-size="7.6"><tspan font-style="italic">σ</tspan><tspan font-size="6.0" dy="1.2">11</tspan></text>
<line x1="501.20" y1="171.1" x2="515.10" y2="171.1" stroke="#D95319" stroke-width="1.2" stroke-opacity="0.75"/>
<text x="519.40" y="172.20" font-size="7.6"><tspan font-style="italic">σ</tspan><tspan font-size="6.0" dy="1.2">2<tspan font-style="italic">P</tspan></tspan></text>
<line x1="501.20" y1="179.7" x2="515.10" y2="179.7" stroke="#EDB120" stroke-width="1.2" stroke-opacity="0.75"/>
<text x="519.40" y="180.80" font-size="7.6"><tspan font-style="italic">σ</tspan><tspan font-size="6.0" dy="1.2">12<tspan font-style="italic">c</tspan></tspan></text>
<g fill="#000" stroke="#000" stroke-width="0.1">
<text x="4.9" y="309.0" font-size="11.6" textLength="11.5" lengthAdjust="spacingAndGlyphs" font-weight="bold">(a)</text>
<text x="21.6" y="309.0" font-size="11.6"><tspan font-style="italic">θ</tspan><tspan font-size="8.4" dy="2.0" font-style="italic" x="27.2">W</tspan></text>
<text x="43.2" y="309.0" font-size="11.6" textLength="7.4" lengthAdjust="spacingAndGlyphs">=</text>
<text x="57.9" y="309.0" font-size="11.6" textLength="37.2" lengthAdjust="spacingAndGlyphs">90 deg.,</text>
<text x="100.4" y="309.0" font-size="11.6"><tspan font-style="italic">ϕ</tspan><tspan font-size="8.4" dy="2.0" x="106.4">0</tspan></text>
<text x="119.3" y="309.0" font-size="11.6" textLength="7.4" lengthAdjust="spacingAndGlyphs">=</text>
<text x="133.6" y="309.0" font-size="11.6" textLength="44.4" lengthAdjust="spacingAndGlyphs">12.5 deg.,</text>
<text x="5.0" y="324.7" font-size="11.6"><tspan font-style="italic">θ</tspan><tspan font-size="8.4" dy="2.0" x="10.4">01</tspan></text>
<text x="22.9" y="324.7" font-size="11.6" textLength="7.6" lengthAdjust="spacingAndGlyphs">=</text>
<text x="35.0" y="324.7" font-size="11.6" textLength="32.5" lengthAdjust="spacingAndGlyphs">15 deg.</text>
<text x="188.6" y="309.0" font-size="11.6" textLength="12.0" lengthAdjust="spacingAndGlyphs" font-weight="bold">(b)</text>
<text x="206.6" y="309.0" font-size="11.6"><tspan font-style="italic">θ</tspan><tspan font-size="8.4" dy="2.0" font-style="italic" x="212.2">W</tspan></text>
<text x="225.9" y="309.0" font-size="11.6" textLength="7.4" lengthAdjust="spacingAndGlyphs">=</text>
<text x="240.2" y="309.0" font-size="11.6" textLength="42.0" lengthAdjust="spacingAndGlyphs">120 deg.,</text>
<text x="287.1" y="309.0" font-size="11.6"><tspan font-style="italic">ϕ</tspan><tspan font-size="8.4" dy="2.0" x="293.1">0</tspan></text>
<text x="304.6" y="309.0" font-size="11.6" textLength="7.4" lengthAdjust="spacingAndGlyphs">=</text>
<text x="317.6" y="309.0" font-size="11.6" textLength="45.1" lengthAdjust="spacingAndGlyphs">12.5 deg.,</text>
<text x="188.7" y="324.7" font-size="11.6"><tspan font-style="italic">θ</tspan><tspan font-size="8.4" dy="2.0" x="194.1">01</tspan></text>
<text x="206.9" y="324.7" font-size="11.6" textLength="7.6" lengthAdjust="spacingAndGlyphs">=</text>
<text x="218.3" y="324.7" font-size="11.6" textLength="33.5" lengthAdjust="spacingAndGlyphs">15 deg.</text>
<text x="372.9" y="309.0" font-size="11.6" textLength="11.3" lengthAdjust="spacingAndGlyphs" font-weight="bold">(c)</text>
<text x="389.4" y="309.0" font-size="11.6"><tspan font-style="italic">θ</tspan><tspan font-size="8.4" dy="2.0" font-style="italic" x="395.0">W</tspan></text>
<text x="411.9" y="309.0" font-size="11.6" textLength="7.4" lengthAdjust="spacingAndGlyphs">=</text>
<text x="428.0" y="309.0" font-size="11.6" textLength="42.0" lengthAdjust="spacingAndGlyphs">120 deg.,</text>
<text x="475.3" y="309.0" font-size="11.6"><tspan font-style="italic">ϕ</tspan><tspan font-size="8.4" dy="2.0" x="481.3">0</tspan></text>
<text x="494.6" y="309.0" font-size="11.6" textLength="7.4" lengthAdjust="spacingAndGlyphs">=</text>
<text x="510.0" y="309.0" font-size="11.6" textLength="36.4" lengthAdjust="spacingAndGlyphs">20 deg.,</text>
<text x="372.9" y="324.7" font-size="11.6"><tspan font-style="italic">θ</tspan><tspan font-size="8.4" dy="2.0" x="378.3">01</tspan></text>
<text x="390.9" y="324.7" font-size="11.6" textLength="7.6" lengthAdjust="spacingAndGlyphs">=</text>
<text x="402.6" y="324.7" font-size="11.6" textLength="34.4" lengthAdjust="spacingAndGlyphs">60 deg.</text>
</g>
</svg>
</body></html>
